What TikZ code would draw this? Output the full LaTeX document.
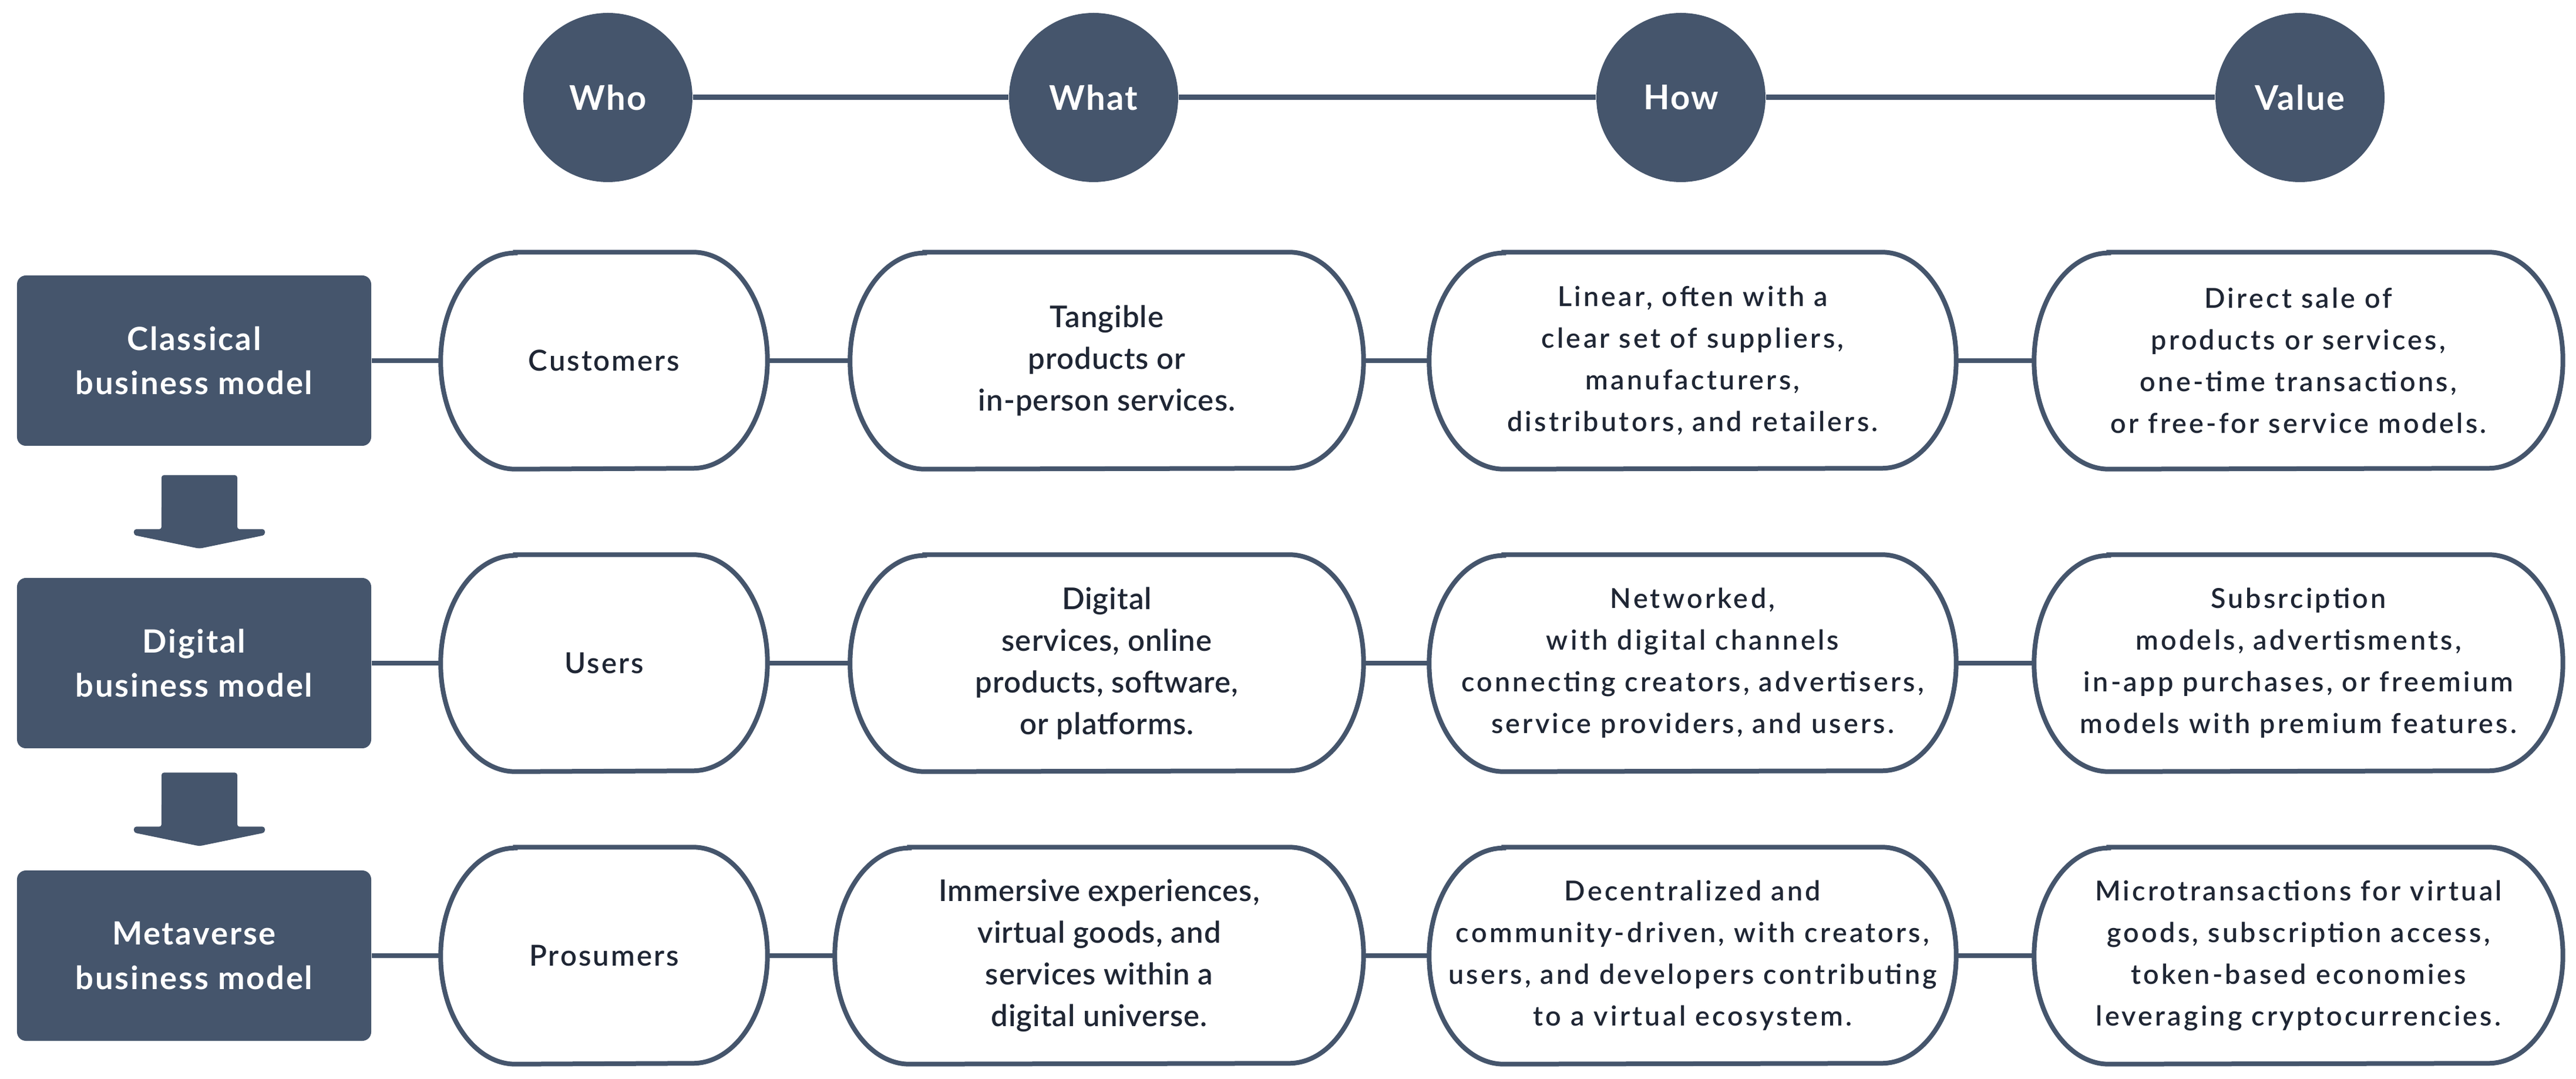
\documentclass[tikz,border=0pt]{standalone}
\usepackage{fontspec}
\setmainfont{Lato}[UprightFont={* Semibold}, BoldFont={* Bold}]
\usetikzlibrary{calc}
\definecolor{slate}{RGB}{69,85,108}
\definecolor{ink}{RGB}{31,38,52}

\begin{document}
\begin{tikzpicture}[
    line/.style={draw=slate, line width=0.8mm},
    head/.style={circle, fill=slate, minimum size=2.88cm, text=white, font=\fontsize{16.5}{20}\selectfont\bfseries\addfontfeatures{LetterSpace=4}},
    model/.style={fill=slate, rounded corners=1.5mm, minimum width=6.03cm, minimum height=2.9cm, align=center, text=white, font=\fontsize{15.5}{21.6}\selectfont\bfseries\addfontfeatures{LetterSpace=5}},
    cell/.style={minimum width=#1, minimum height=3.68cm, align=center, text=ink, font=\fontsize{13.3}{20.2}\selectfont\addfontfeatures{LetterSpace=9}},
    cell/.default=8.96cm,
    wide/.style={font=\fontsize{14.5}{20.2}\selectfont\addfontfeatures{LetterSpace=2}},
    who/.style={font=\fontsize{14}{20.2}\selectfont\addfontfeatures{LetterSpace=6}}]
    \useasboundingbox (0,0) rectangle (43.86,-18.37);

    % top row
    \node[head] (who) at (10.35,-1.66) {Who};
    \node[head] (what) at (18.62,-1.66) {What};
    \node[head] (how) at (28.62,-1.66) {How};
    \node[head] (value) at (39.16,-1.66) {Value};
    \draw[line, line width=0.9mm] (who) -- (what) (what) -- (how) (how) -- (value);

    % models on the left
    \node[model] (classic) at (3.305,-6.14) {Classical\\business model};
    \node[model] (digital) at (3.305,-11.29) {Digital\\business model};
    \node[model] (meta) at (3.305,-16.27) {Metaverse\\business model};

    % row 1
    \node[cell=5.55cm, who] (cust) at (10.285,-6.14) {Customers};
    \node[cell=8.73cm, wide] (tang) at (18.845,-6.14) {Tangible\\products or\\in-person services.};
    \node[cell] (linear) at (28.82,-6.14) {Linear, often with a\\clear set of suppliers,\\manufacturers,\\distributors, and retailers.};
    \node[cell=8.99cm] (direct) at (39.135,-6.14) {Direct sale of\\products or services,\\one-time transactions,\\or free-for service models.};

    % row 2
    \node[cell=5.55cm, who] (users) at (10.285,-11.29) {Users};
    \node[cell=8.73cm, wide] (digi) at (18.845,-11.29) {Digital\\services, online\\products, software,\\or platforms.};
    \node[cell] (net) at (28.82,-11.29) {Networked,\\with digital channels\\connecting creators, advertisers,\\service providers, and users.};
    \node[cell=8.99cm] (subs) at (39.135,-11.29) {Subsrciption\\models, advertisments,\\in-app purchases, or freemium\\models with premium features.};

    % row 3
    \node[cell=5.55cm, who] (pros) at (10.285,-16.27) {Prosumers};
    \node[cell=8.99cm, wide] (imm) at (18.715,-16.27) {Immersive experiences,\\virtual goods, and\\services within a\\digital universe.};
    \node[cell] (dec) at (28.82,-16.27) {Decentralized and\\community-driven, with creators,\\users, and developers contributing\\to a virtual ecosystem.};
    \node[cell=8.99cm] (micro) at (39.135,-16.27) {Microtransactions for virtual\\goods, subscription access,\\token-based economies\\leveraging cryptocurrencies.};

    % outlines with elliptic ends
    \foreach \n in {cust,tang,linear,direct,users,digi,net,subs,pros,imm,dec,micro}
        \draw[line] ([xshift=1.27cm]\n.north west) -- ([xshift=-1.27cm]\n.north east)
            arc[start angle=90, end angle=-90, x radius=1.27cm, y radius=1.84cm]
            -- ([xshift=1.27cm]\n.south west)
            arc[start angle=270, end angle=90, x radius=1.27cm, y radius=1.84cm] -- cycle;

    % connectors
    \draw[line] (classic) -- (cust) (cust) -- (tang) (tang) -- (linear) (linear) -- (direct);
    \draw[line] (digital) -- (users) (users) -- (digi) (digi) -- (net) (net) -- (subs);
    \draw[line] (meta) -- (pros) (pros) -- (imm) (imm) -- (dec) (dec) -- (micro);

    % block arrows between the models
    \foreach \a/\b in {classic/digital, digital/meta} {
        \coordinate (gap) at ($(\a.south)!0.5!(\b.north)$);
        \fill[slate, rounded corners=0.4mm] ([xshift=0.09cm]gap) ++(-0.645,0.625) -- ++(1.29,0) -- ++(0,-0.92)
            -- ++(0.47,0) -- ++(0,-0.1) -- ++(-1.115,-0.23) -- ++(-1.115,0.23) -- ++(0,0.1) -- ++(0.47,0) -- cycle;
    }
\end{tikzpicture}
\end{document}
